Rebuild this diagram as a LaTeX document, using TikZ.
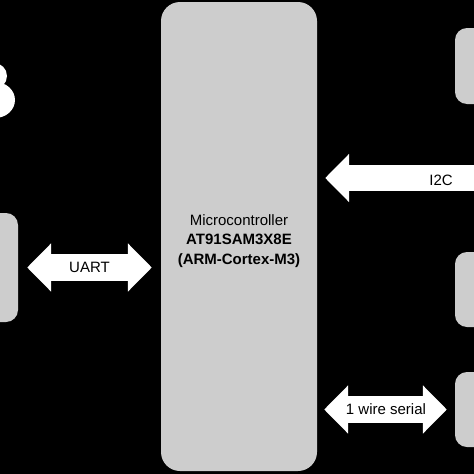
\documentclass[tikz,border=0pt]{standalone}
\usepackage{fontspec}
\setmainfont{Liberation Sans}
\usetikzlibrary{positioning}
\usetikzlibrary{arrows.meta}
\definecolor{boxgray}{RGB}{205,205,205}
\tikzset{
    block/.style = {rectangle, rounded corners=12pt, fill=boxgray, draw=none, inner sep=0pt, minimum width=80pt, minimum height=75pt},
    mcublock/.style = {rectangle, rounded corners=19pt, fill=boxgray, draw=none, inner sep=0pt, minimum width=156pt, minimum height=469pt},
    busd/.style = {{Triangle[length=24pt,width=47pt]}-{Triangle[length=24pt,width=47pt]}, line width=27pt, white},
    busl/.style = {{Triangle[length=24pt,width=47pt]}-, line width=26pt, white},
    buslabel/.style = {font=\fontsize{15}{18}\selectfont, text=black},
    mcutext/.style = {align=center, font=\fontsize{15}{19.3}\selectfont, text=black}
}

\begin{document}
\begin{tikzpicture}[x=1pt,y=-1pt]
%
\useasboundingbox (0,0) rectangle (474,474);
\clip (0,0) rectangle (474,474);
\fill[black] (0,0) rectangle (474,474);
%
\node[mcublock] at (239,236.5) (mcu) {};
\node[mcutext] at (239,241) (mcul) {Microcontroller\\\textbf{AT91SAM3X8E}\\\textbf{(ARM-Cortex-M3)}};
\node[block, minimum width=78pt, minimum height=109pt] at (-21,267.5) (uartdev) {};
\node[block, minimum height=76pt] at (495,66) (devtop) {};
\node[block] at (495,289.5) (devmid) {};
\node[block] at (495,409.5) (sensor) {};
\coordinate (i2csrc) at (500,178);
%
% user icon, cut by the left edge
\fill[white] (-6,76) circle (13);
\fill[white] (-5,100) ellipse (20 and 18);
%
\draw[busd, shorten <=9pt, shorten >=9pt] (uartdev.east) -- (uartdev.east -| mcu.west)
    node[buslabel, midway] {UART};
\draw[busl, shorten <=8pt] (mcu.east |- i2csrc) -- (i2csrc)
    node[buslabel, pos=0.678, yshift=-2pt] {I2C};
\draw[busd, shorten <=7pt, shorten >=8pt] (mcu.east |- sensor.west) -- (sensor.west)
    node[buslabel, midway] {1 wire serial};
\end{tikzpicture}
\end{document}
